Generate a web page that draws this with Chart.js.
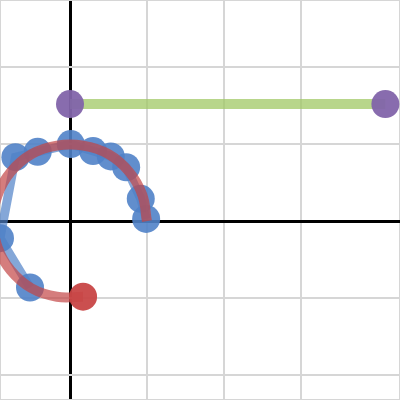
<!DOCTYPE html>
<html>
<head>
<script src="https://cdn.jsdelivr.net/npm/chart.js@4"></script>
<style>html,body{margin:0;padding:0;background:#fff}#wrap{width:400px;height:400px}</style>
</head>
<body>
<div id="wrap"><canvas id="graph"></canvas></div>
<script>
// points (graph units)
const segmentX = [0, 4.1];
const segmentY = [1.52, 1.52];
const blueX = [0.99, 0.92, 0.73, 0.53, 0.3, 0.01, -0.42, -0.71, -0.91, -0.52];
const blueY = [0.03, 0.29, 0.7, 0.84, 0.91, 1.0, 0.9, 0.83, -0.22, -0.86];
const redX = [1, 0.94, 0.77, 0.5, 0.17, -0.17, -0.5, -0.77, -0.94, -1, -0.94, -0.77, -0.5, -0.17, 0.17];
const redY = [0, 0.34, 0.64, 0.87, 0.98, 0.98, 0.87, 0.64, 0.34, 0, -0.34, -0.64, -0.87, -0.98, -0.98];

const pts = (xs, ys) => xs.map((x, i) => ({ x: x, y: ys[i] }));
const redPts = pts(redX, redY);

const gridColor = ctx => ctx.tick.value === 0 ? '#000' : '#d6d6d6';
const gridWidth = ctx => ctx.tick.value === 0 ? 3 : 2;

new Chart(document.getElementById('graph').getContext('2d'), {
    type: 'scatter',
    data: {
        datasets: [
            {
                data: pts(segmentX, segmentY), showLine: true, order: 1,
                borderColor: 'rgba(160,200,100,0.75)', borderWidth: 10,
                pointRadius: 14, pointBackgroundColor: 'rgba(130,100,170,0.95)', pointBorderWidth: 0
            },
            {
                data: redPts, showLine: true, tension: 0.4, order: 2,
                borderColor: 'rgba(195,70,70,0.7)', borderWidth: 10,
                pointRadius: redPts.map((p, i) => i === redPts.length - 1 ? 14 : 0),
                pointBackgroundColor: 'rgba(200,70,70,0.95)', pointBorderWidth: 0
            },
            {
                data: pts(blueX, blueY), showLine: true, order: 3,
                borderColor: 'rgba(80,130,200,0.7)', borderWidth: 9,
                pointRadius: 14, pointBackgroundColor: 'rgba(80,130,200,0.9)', pointBorderWidth: 0
            }
        ]
    },
    options: {
        responsive: true, maintainAspectRatio: false, animation: false,
        layout: { padding: 0, autoPadding: false },
        plugins: { legend: { display: false }, tooltip: { enabled: false } },
        scales: {
            x: { type: 'linear', min: -0.91, max: 4.29, ticks: { display: false, stepSize: 1 },
                 border: { display: false }, grid: { color: gridColor, lineWidth: gridWidth, drawTicks: false } },
            y: { type: 'linear', min: -2.32, max: 2.87, ticks: { display: false, stepSize: 1 },
                 border: { display: false }, grid: { color: gridColor, lineWidth: gridWidth, drawTicks: false } }
        }
    }
});
</script>
</body>
</html>
